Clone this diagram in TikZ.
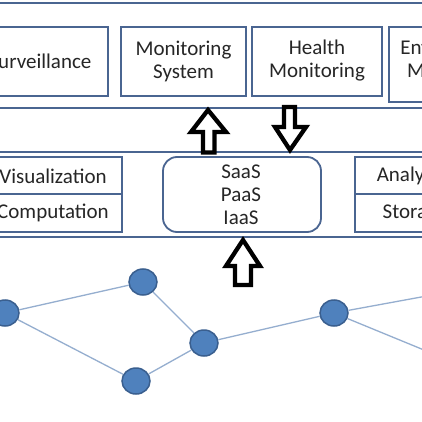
\documentclass[tikz,border=0pt]{standalone}
\usepackage{fontspec}
\setmainfont{Carlito}
\usetikzlibrary{shapes.geometric}
\definecolor{boxc}{HTML}{4A6591}
\definecolor{nodefill}{HTML}{4F81BD}
\definecolor{nodeedge}{HTML}{3A5F8F}
\definecolor{edgec}{HTML}{95AECF}
\begin{document}
\begin{tikzpicture}[x=1pt,y=-1pt,
  band/.style={draw=boxc,line width=1.8pt},
  sbox/.style={draw=boxc,line width=1.8pt},
  lbl/.style={font=\fontsize{21}{23}\selectfont,text=black!85,align=center,inner sep=0pt},
  netnode/.style={ellipse,draw=nodeedge,fill=nodefill,line width=1.5pt,minimum width=28pt,minimum height=26pt,inner sep=0pt},
  netedge/.style={draw=edgec,line width=1.3pt},
  blockarrow/.style={draw=black,fill=white,line width=4.3pt,line join=miter}]
\useasboundingbox (0,0) rectangle (422,422);
\clip (0,0) rectangle (422,422);
\fill[white] (0,0) rectangle (422,422);
% bands
\draw[band] (-20,3) rectangle (442,108);
\draw[band] (-20,108) rectangle (442,152);
\draw[band] (-20,152) rectangle (442,237);
% top boxes
\draw[sbox] (-28,27) rectangle (108,96);
\node[lbl] (surv) at (40,61) {Surveillance};
\draw[sbox] (121,27) rectangle (246,96);
\node[lbl] (mon) at (183.5,61) {Monitoring\\System};
\draw[sbox] (252,27) rectangle (382,96);
\node[lbl] (health) at (317,61) {Health\\Monitoring};
\draw[sbox] (389,27) rectangle (521,102);
\node[lbl] (env) at (455,61) {Environment\\Monitoring};
% lower boxes
\draw[sbox] (-16,157) rectangle (122,232);
\draw[sbox] (-16,194) -- (122,194);
\node[lbl] (vis) at (53,176) {Visualization};
\node[lbl] (comp) at (53,213) {Computation};
\draw[sbox,rounded corners=14pt] (163,157) rectangle (321,232);
\node[lbl] (saas) at (241,195) {SaaS\\PaaS\\IaaS};
\draw[sbox] (355,157) rectangle (475,232);
\draw[sbox] (355,194) -- (475,194);
\node[lbl] (ana) at (415,176) {Analytics};
\node[lbl] (sto) at (415,213) {Storage};
% block arrows
\draw[blockarrow] (208,110) -- (226,132) -- (214.5,132) -- (214.5,152.5) -- (203,152.5) -- (203,132) -- (191,132) -- cycle;
\draw[blockarrow] (290,150) -- (306,127) -- (295,127) -- (295,107) -- (284,107) -- (284,127) -- (275,127) -- cycle;
\draw[blockarrow] (243,240) -- (260,266) -- (251,266) -- (251,285) -- (235,285) -- (235,266) -- (226,266) -- cycle;
% network
\node[netnode] (n1) at (5,313) {};
\node[netnode] (n2) at (143,282) {};
\node[netnode] (n3) at (204,343) {};
\node[netnode] (n4) at (136,381) {};
\node[netnode] (n5) at (334,313) {};
\coordinate (e1) at (424,296.5);
\coordinate (e2) at (424,350);
\draw[netedge] (n1) -- (n2);
\draw[netedge] (n1) -- (n4);
\draw[netedge] (n2) -- (n3);
\draw[netedge] (n4) -- (n3);
\draw[netedge] (n3) -- (n5);
\draw[netedge] (n5) -- (e1);
\draw[netedge] (n5) -- (e2);
\end{tikzpicture}
\end{document}
